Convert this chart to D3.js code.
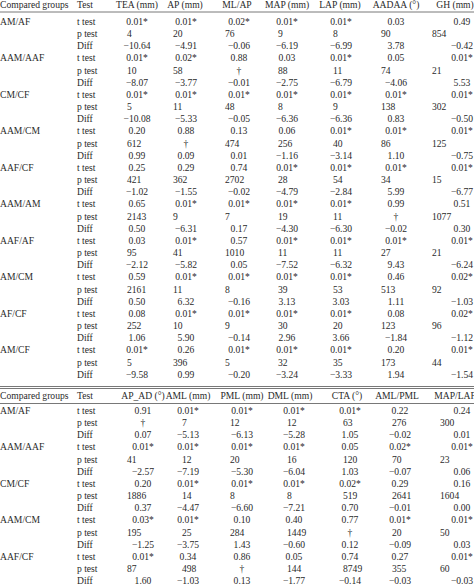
<!DOCTYPE html><html><head><meta charset="utf-8">
<script src="https://cdn.jsdelivr.net/npm/d3@7"></script>
<style>body{margin:0;background:#fff}text{font-family:"Liberation Serif","DejaVu Serif",serif;font-size:9.6px;fill:#2a2a2a}</style></head><body>
<svg id="c" width="474" height="588"></svg>
<script>
const tests=["t test","p test","Diff"];
const cols1=["TEA (mm)","AP (mm)","ML/AP","MAP (mm)","LAP (mm)","AADAA (°)","GH (mm)"];
const cols2=["AP_AD (°)","AML (mm)","PML (mm)","DML (mm)","CTA (°)","AML/PML","MAP/LAF"];
const groups1=["AM/AF","AAM/AAF","CM/CF","AAM/CM","AAF/CF","AAM/AM","AAF/AF","AM/CM","AF/CF","AM/CF"];
const groups2=["AM/AF","AAM/AAF","CM/CF","AAM/CM","AAF/CF"];
const vals1=[
["0.01*","0.01*","0.02*","0.01*","0.01*","0.03","0.49"],["4","20","76","9","8","90","854"],["−10.64","−4.91","−0.06","−6.19","−6.99","3.78","−0.42"],
["0.01*","0.02*","0.88","0.03","0.01*","0.05","0.01*"],["10","58","†","88","11","74","21"],["−8.07","−3.77","−0.01","−2.75","−6.79","−4.06","5.53"],
["0.01*","0.01*","0.01*","0.01*","0.01*","0.01*","0.01*"],["5","11","48","8","9","138","302"],["−10.08","−5.33","−0.05","−6.36","−6.36","0.83","−0.50"],
["0.20","0.88","0.13","0.06","0.01*","0.01*","0.01*"],["612","†","474","256","40","86","125"],["0.99","0.09","0.01","−1.16","−3.14","1.10","−0.75"],
["0.25","0.29","0.74","0.01*","0.01*","0.01*","0.01*"],["421","362","2702","28","54","34","15"],["−1.02","−1.55","−0.02","−4.79","−2.84","5.99","−6.77"],
["0.65","0.01*","0.01*","0.01*","0.01*","0.99","0.51"],["2143","9","7","19","11","†","1077"],["0.50","−6.31","0.17","−4.30","−6.30","−0.02","0.30"],
["0.03","0.01*","0.57","0.01*","0.01*","0.01*","0.01*"],["95","41","1010","11","11","27","21"],["−2.12","−5.82","0.05","−7.52","−6.32","9.43","−6.24"],
["0.59","0.01*","0.01*","0.01*","0.01*","0.46","0.02*"],["2161","11","8","39","53","513","92"],["0.50","6.32","−0.16","3.13","3.03","1.11","−1.03"],
["0.08","0.01*","0.01*","0.01*","0.01*","0.08","0.02*"],["252","10","9","30","20","123","96"],["1.06","5.90","−0.14","2.96","3.66","−1.84","−1.12"],
["0.01*","0.26","0.01*","0.01*","0.01*","0.20","0.01*"],["5","396","5","32","35","173","44"],["−9.58","0.99","−0.20","−3.24","−3.33","1.94","−1.54"]];
const vals2=[
["0.91","0.01*","0.01*","0.01*","0.01*","0.22","0.24"],["†","7","12","12","63","276","300"],["0.07","−5.13","−6.13","−5.28","1.05","−0.02","0.01"],
["0.01*","0.01*","0.01*","0.01*","0.05","0.02*","0.01*"],["41","12","20","16","120","70","23"],["−2.57","−7.19","−5.30","−6.04","1.03","−0.07","0.06"],
["0.20","0.01*","0.01*","0.01*","0.02*","0.29","0.16"],["1886","14","8","8","519","2641","1604"],["0.37","−4.47","−6.60","−7.21","0.70","−0.01","0.00"],
["0.03*","0.01*","0.10","0.40","0.77","0.01*","0.01*"],["195","25","284","1449","†","20","50"],["−1.25","−3.75","1.43","−0.60","0.12","−0.09","0.03"],
["0.01*","0.34","0.86","0.05","0.74","0.27","0.01*"],["87","498","†","144","8749","355","60"],["1.60","−1.03","0.13","−1.77","−0.14","−0.03","−0.03"]];
const svg=d3.select("#c");
const ctr1=[137,186,239,287,341,396,462], pl1=[127,173,225,278,333,381,432];
const ctr2=[143,188,242,294,350,400,462], pl2=[127,182,230,287,343,392,440];
function section(y0,hy,cols,groups,vals,ctr,pl,hdrC){
  const y=d3.scaleLinear().domain([0,1]).range([y0,y0+12.17]);
  const g=svg.append("g");
  g.append("text").attr("x",0).attr("y",hy).attr("dy","0.35em").text("Compared groups");
  g.append("text").attr("x",77).attr("y",hy).attr("dy","0.35em").text("Test");
  cols.forEach((c,j)=>g.append("text").attr("x",hdrC[j]).attr("y",hy).attr("dy","0.35em").attr("text-anchor","middle").text(c));
  vals.forEach((r,i)=>{
    if(i%3===0) g.append("text").attr("x",0).attr("y",y(i)).attr("dy","0.35em").text(groups[i/3]);
    g.append("text").attr("x",77).attr("y",y(i)).attr("dy","0.35em").text(tests[i%3]);
    r.forEach((v,j)=>{
      const p=i%3===1 && v!=="†";
      g.append("text").attr("x",p?pl[j]:ctr[j]).attr("y",y(i)).attr("dy","0.35em")
       .attr("text-anchor",p?"start":"middle").text(v);
    });
  });
}
section(21.5,4.5,cols1,groups1,vals1,ctr1,pl1,[137,185,237,287,340,396,455]);
section(410.5,396,cols2,groups2,vals2,ctr2,pl2,[143,188,242,290,347,397,455]);
const ln=(y,w)=>svg.append("line").attr("x1",0).attr("x2",474).attr("y1",y).attr("y2",y).attr("stroke","#555").attr("stroke-width",w);
ln(12,0.8);ln(386.5,0.8);ln(388.5,0.8);ln(403.5,0.8);
</script></body></html>
